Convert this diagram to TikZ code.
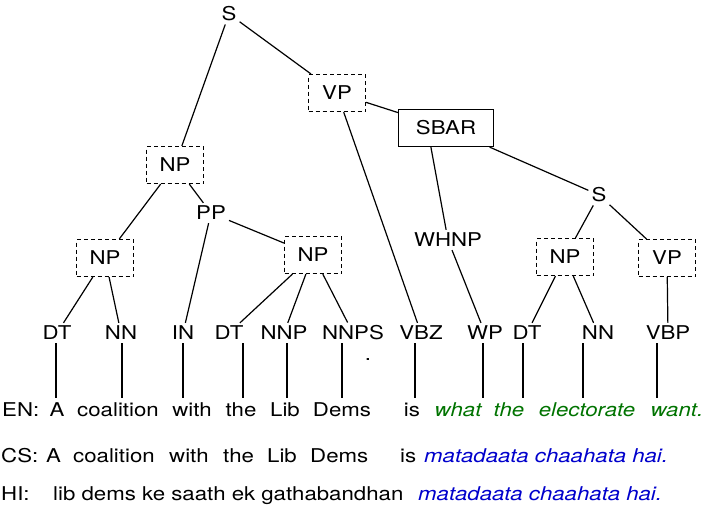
\documentclass[tikz,border=0pt]{standalone}
\usepackage{fontspec}
\setmainfont[FakeStretch=1.17]{TeX Gyre Heros}
\begin{document}
\begin{tikzpicture}[x=1pt,y=-1pt,
  every node/.style={font=\fontsize{19}{22}\selectfont,inner sep=3pt},
  db/.style={draw,line width=1.2pt,dash pattern=on 4pt off 3pt,minimum width=57pt,minimum height=37pt},
  sb/.style={draw,line width=1.2pt,minimum width=95pt,minimum height=37pt},
  w/.style={anchor=base,inner sep=0pt},
  wl/.style={anchor=base west,inner sep=0pt},
  e/.style={line width=1.2pt},
  en/.style={text=green!45!black,font=\fontsize{19}{22}\selectfont\itshape},
  bl/.style={text=blue!80!black,font=\fontsize{19}{22}\selectfont\itshape}]
\useasboundingbox (0,0) rectangle (705,507);
% internal nodes
\node (S) at (229,14) {S};
\node[db] (VP) at (337,93) {VP};
\node[db] (NP1) at (175,165) {NP};
\node (PP) at (211,213) {PP};
\node[db] (NP2) at (105,258) {NP};
\node[db] (NP3) at (313,255) {NP};
\node[sb] (SBAR) at (446,128) {SBAR};
\node (WHNP) at (448,240) {WHNP};
\node (S2) at (599,195) {S};
\node[db] (NP4) at (565,257) {NP};
\node[db] (VP2) at (667,258) {VP};
% leaves
\node (l1) at (57,333) {DT};
\node (l2) at (121,333) {NN};
\node (l3) at (183,333) {IN};
\node (l4) at (229,333) {DT};
\node (l5) at (284,333) {NNP};
\node (l6) at (353,333) {NNPS};
\node (l7) at (421,333) {VBZ};
\node (l8) at (485,333) {WP};
\node (l9) at (527,333) {DT};
\node (l10) at (598,333) {NN};
\node (l11) at (668,333) {VBP};
\node[inner sep=0pt] (dot) at (368,360) {.};
% tree edges
\draw[e] (S) -- (NP1);
\draw[e] (S) -- (VP);
\draw[e] (VP) -- (l7);
\draw[e] (VP) -- (SBAR);
\coordinate (sbw) at ([xshift=33pt]SBAR.south west);
\draw[e] (sbw) -- (WHNP);
\draw[e] (SBAR) -- (S2);
\draw[e] (WHNP) -- (l8);
\draw[e] (S2) -- (NP4);
\draw[e] (S2) -- (VP2);
\draw[e] (NP4) -- (l9);
\draw[e] (NP4) -- (l10);
\draw[e] (VP2) -- (l11);
\draw[e] (NP1) -- (NP2);
\draw[e] (NP1) -- (PP);
\draw[e] (NP2) -- (l1);
\draw[e] (NP2) -- (l2);
\draw[e] (PP) -- (l3);
\draw[e] (PP) -- (NP3);
\draw[e] (NP3) -- (l4);
\draw[e] (NP3) -- (l5);
\draw[e] (NP3) -- (l6);
% EN line
\node[wl] (EN) at (2,416) {EN:};
\node[w] (wA) at (57,416) {A};
\node[w] (w2) at (118,416) {coalition};
\node[w] (w3) at (192,416) {with};
\node[w] (w4) at (241,416) {the};
\node[w] (w5) at (285,416) {Lib};
\node[w] (w6) at (342,416) {Dems};
\node[w] (w7) at (412,416) {is};
\node[w,en] (w8) at (458,416) {what};
\node[w,en] (w9) at (509,416) {the};
\node[w,en] (w10) at (587,416) {electorate};
\node[w,en] (w11) at (677,416) {want.};
% leaf-word lines
\foreach \lf/\x in {l1/56,l2/122,l3/183,l4/243,l5/287,l6/342,l7/415,l8/483,l9/523,l10/583,l11/657}{
  \coordinate (b\lf) at (\x,398);
  \draw[e] (\lf.south -| b\lf) -- (b\lf);
}
% CS line
\node[wl] (CS) at (1,462) {CS:};
\node[wl] at (46,462) {A};
\node[wl] at (73,462) {coalition};
\node[wl] at (169,462) {with};
\node[wl] at (223,462) {the};
\node[wl] at (267,462) {Lib};
\node[wl] at (310,462) {Dems};
\node[wl] at (400,462) {is};
\node[wl,bl] (cs2) at (424,462) {matadaata chaahata hai.};
% HI line
\node[wl] (HI) at (1,500) {HI:};
\node[wl] (hi1) at (53,500) {lib dems ke saath ek gathabandhan};
\node[wl,bl] (hi2) at (418,500) {matadaata chaahata hai.};
\end{tikzpicture}
\end{document}
